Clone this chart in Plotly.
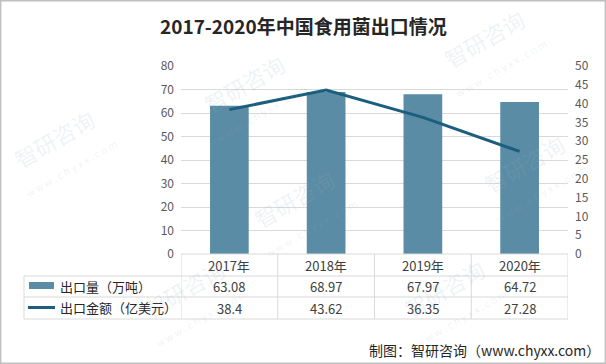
import plotly.graph_objects as go

years = ["2017年", "2018年", "2019年", "2020年"]
volume = [63.08, 68.97, 67.97, 64.72]      # 出口量（万吨）
value = [38.4, 43.62, 36.35, 27.28]        # 出口金额（亿美元）
volume_labels = ["63.08", "68.97", "67.97", "64.72"]
value_labels = ["38.4", "43.62", "36.35", "27.28"]
series_names = ["出口量（万吨）", "出口金额（亿美元）"]

W, H = 606, 364
BAR = "#5B8CA5"
LINE = "#1B5E7E"
GRID = "#D9D9D9"
TXT = "#404040"
FONT = "Noto Sans CJK SC, Microsoft YaHei, sans-serif"

def px(x):
    return x / W

def py(y):
    return 1 - y / H

x0, x1 = 181, 568
y_top, y_bot = 66, 254

fig = go.Figure()
fig.add_trace(go.Bar(x=list(range(len(years))), y=volume, marker_color=BAR, width=0.4,
                     name=series_names[0], showlegend=False, hoverinfo="skip"))
fig.add_trace(go.Scatter(x=list(range(len(years))), y=value, mode="lines", yaxis="y2",
                         line=dict(color=LINE, width=3), name=series_names[1],
                         showlegend=False, hoverinfo="skip"))

fig.update_layout(
    template="none",
    width=W, height=H, margin=dict(l=0, r=0, t=0, b=0, pad=0), autosize=False,
    paper_bgcolor="white", plot_bgcolor="rgba(0,0,0,0)",
    font=dict(family=FONT, color=TXT),
    xaxis=dict(domain=[px(x0), px(x1)], range=[-0.5, 3.5], showticklabels=False,
               showgrid=False, zeroline=False, ticks="", showline=False, automargin=False),
    yaxis=dict(domain=[py(y_bot), py(y_top)], range=[0, 80], dtick=10, ticks="",
               gridcolor=GRID, gridwidth=1, zeroline=False, showline=False, automargin=False,
               ticklabelstandoff=6,
               tickfont=dict(size=12, color="#595959", family=FONT)),
    yaxis2=dict(overlaying="y", side="right", range=[0, 50], dtick=5, ticks="",
                showgrid=False, zeroline=False, showline=False, automargin=False,
                ticklabelstandoff=6,
                tickfont=dict(size=12, color="#595959", family=FONT)),
    bargap=0.6,
)

shapes = []
# outer frame
shapes.append(dict(type="rect", xref="paper", yref="paper", x0=0.001, x1=0.999, y0=0.002, y1=0.998,
                   line=dict(color="#BFBFBF", width=1.5)))
# table horizontal lines
row_lines = [254, 276, 297, 319]
for i, yy in enumerate(row_lines):
    left = x0 if i == 0 else 24
    shapes.append(dict(type="line", xref="paper", yref="paper", x0=px(left), x1=px(x1),
                       y0=py(yy), y1=py(yy), line=dict(color=GRID, width=1)))
# table vertical lines at category boundaries
for b in [-0.5, 0.5, 1.5, 2.5, 3.5]:
    shapes.append(dict(type="line", xref="x", yref="paper", x0=b, x1=b,
                       y0=py(319), y1=py(254), line=dict(color=GRID, width=1)))
shapes.append(dict(type="line", xref="paper", yref="paper", x0=px(24), x1=px(24),
                   y0=py(319), y1=py(276), line=dict(color=GRID, width=1)))
# legend keys
shapes.append(dict(type="rect", xref="paper", yref="paper", x0=px(29), x1=px(54),
                   y0=py(289), y1=py(282), fillcolor=BAR, line=dict(width=0)))
shapes.append(dict(type="line", xref="paper", yref="paper", x0=px(28), x1=px(55),
                   y0=py(307.5), y1=py(307.5), line=dict(color=LINE, width=3)))

ann = []
C = dict(xanchor="center", yanchor="middle", showarrow=False)
ann.append(dict(text="<b>2017-2020年中国食用菌出口情况</b>", xref="paper", yref="paper",
                x=px(303), y=py(26), font=dict(size=19, color="#262626", family=FONT), **C))
for i, yr in enumerate(years):
    ann.append(dict(text=yr, xref="x", yref="paper", x=i, y=py(265), font=dict(size=13, color=TXT), **C))
    ann.append(dict(text=volume_labels[i], xref="x", yref="paper", x=i, y=py(286.5),
                    font=dict(size=13, color=TXT), **C))
    ann.append(dict(text=value_labels[i], xref="x", yref="paper", x=i, y=py(308),
                    font=dict(size=13, color=TXT), **C))
ann.append(dict(text=series_names[0], xref="paper", yref="paper", x=px(58), y=py(286),
                xanchor="left", yanchor="middle", showarrow=False, font=dict(size=13, color="#262626")))
ann.append(dict(text=series_names[1], xref="paper", yref="paper", x=px(58), y=py(307.5),
                xanchor="left", yanchor="middle", showarrow=False, font=dict(size=13, color="#262626")))
ann.append(dict(text="制图：智研咨询（www.chyxx.com）", xref="paper", yref="paper", x=px(602), y=py(350),
                xanchor="right", yanchor="middle", showarrow=False, font=dict(size=14, color="#262626")))

# faint watermarks
for (wx, wy) in [(250, 95), (490, 50), (60, 150), (300, 210), (530, 175), (190, 300), (450, 300)]:
    ann.append(dict(text="智研咨询<br><span style='font-size:10px'>w w w . c h y x x . c o m</span>",
                    xref="paper", yref="paper", x=px(wx), y=py(wy), textangle=-30,
                    font=dict(size=22, color="rgba(150,175,195,0.16)"), **C))

fig.update_layout(shapes=shapes, annotations=ann)
fig.write_html("out.html", config={"displayModeBar": False, "staticPlot": True},
               post_script="document.body.style.margin='0';document.body.style.overflow='hidden';")
